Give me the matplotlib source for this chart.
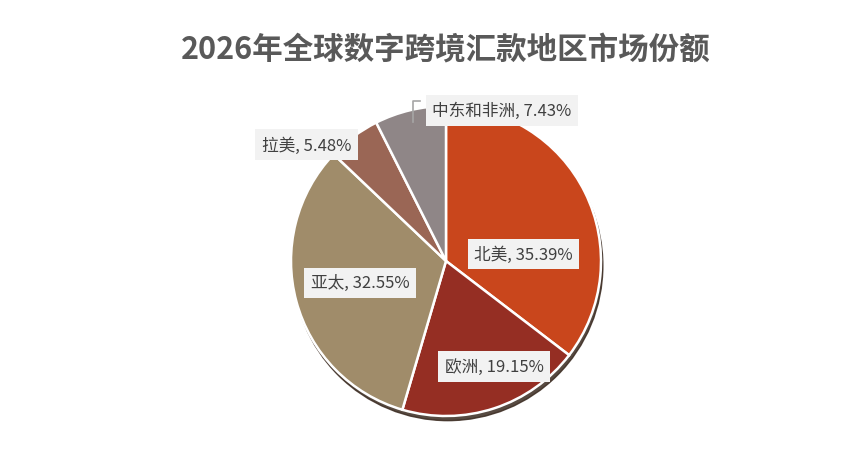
import matplotlib.pyplot as plt
from matplotlib.patches import Circle

plt.rcParams['font.family'] = ['Noto Sans CJK SC', 'DejaVu Sans']

regions = ['北美', '欧洲', '亚太', '拉美', '中东和非洲']
shares = [35.39, 19.15, 32.55, 5.48, 7.43]
colors = ['#C9461C', '#952E23', '#A08C6A', '#9A6655', '#8F8687']
# label positions in pie-radius units
label_pos = [(0.50, 0.045), (0.31, -0.68), (-0.555, -0.14), (-0.90, 0.75), (0.36, 0.97)]

fig = plt.figure(figsize=(8.65, 4.64), dpi=100)
W, H = 865, 464
cx, cy, r = 446, 262, 155
half = 165
ax = fig.add_axes([(cx - half) / W, (H - cy - half) / H, 2 * half / W, 2 * half / H])
lim = half / r
ax.set_aspect('equal')
ax.axis('off')

# soft shadow under the pie
ax.add_patch(Circle((0.012, -0.03), 1.0, color='#3a2a20', alpha=0.85, zorder=0))

ax.pie(shares, colors=colors, startangle=90, counterclock=False,
       wedgeprops=dict(edgecolor='white', linewidth=1.8), radius=1.0)
ax.set_xlim(-lim, lim)
ax.set_ylim(-lim, lim)

for name, val, (x, y) in zip(regions, shares, label_pos):
    ax.text(x, y, f'{name}, {val:.2f}%', ha='center', va='center', fontsize=12,
            color='#404040', zorder=5,
            bbox=dict(boxstyle='square,pad=0.4', fc='#F2F2F2', ec='none'))

# leader line for the small slice
ax.plot([-0.215, -0.215, -0.17], [0.90, 1.03, 1.03], color='#A6A6A6', lw=1.2,
        zorder=6, clip_on=False)

fig.text(446 / W, 1 - 50 / H, '2026年全球数字跨境汇款地区市场份额', ha='center', va='center',
         fontsize=22, fontweight='bold', color='#595959')

fig.savefig('out.png', dpi=100, facecolor='white')
